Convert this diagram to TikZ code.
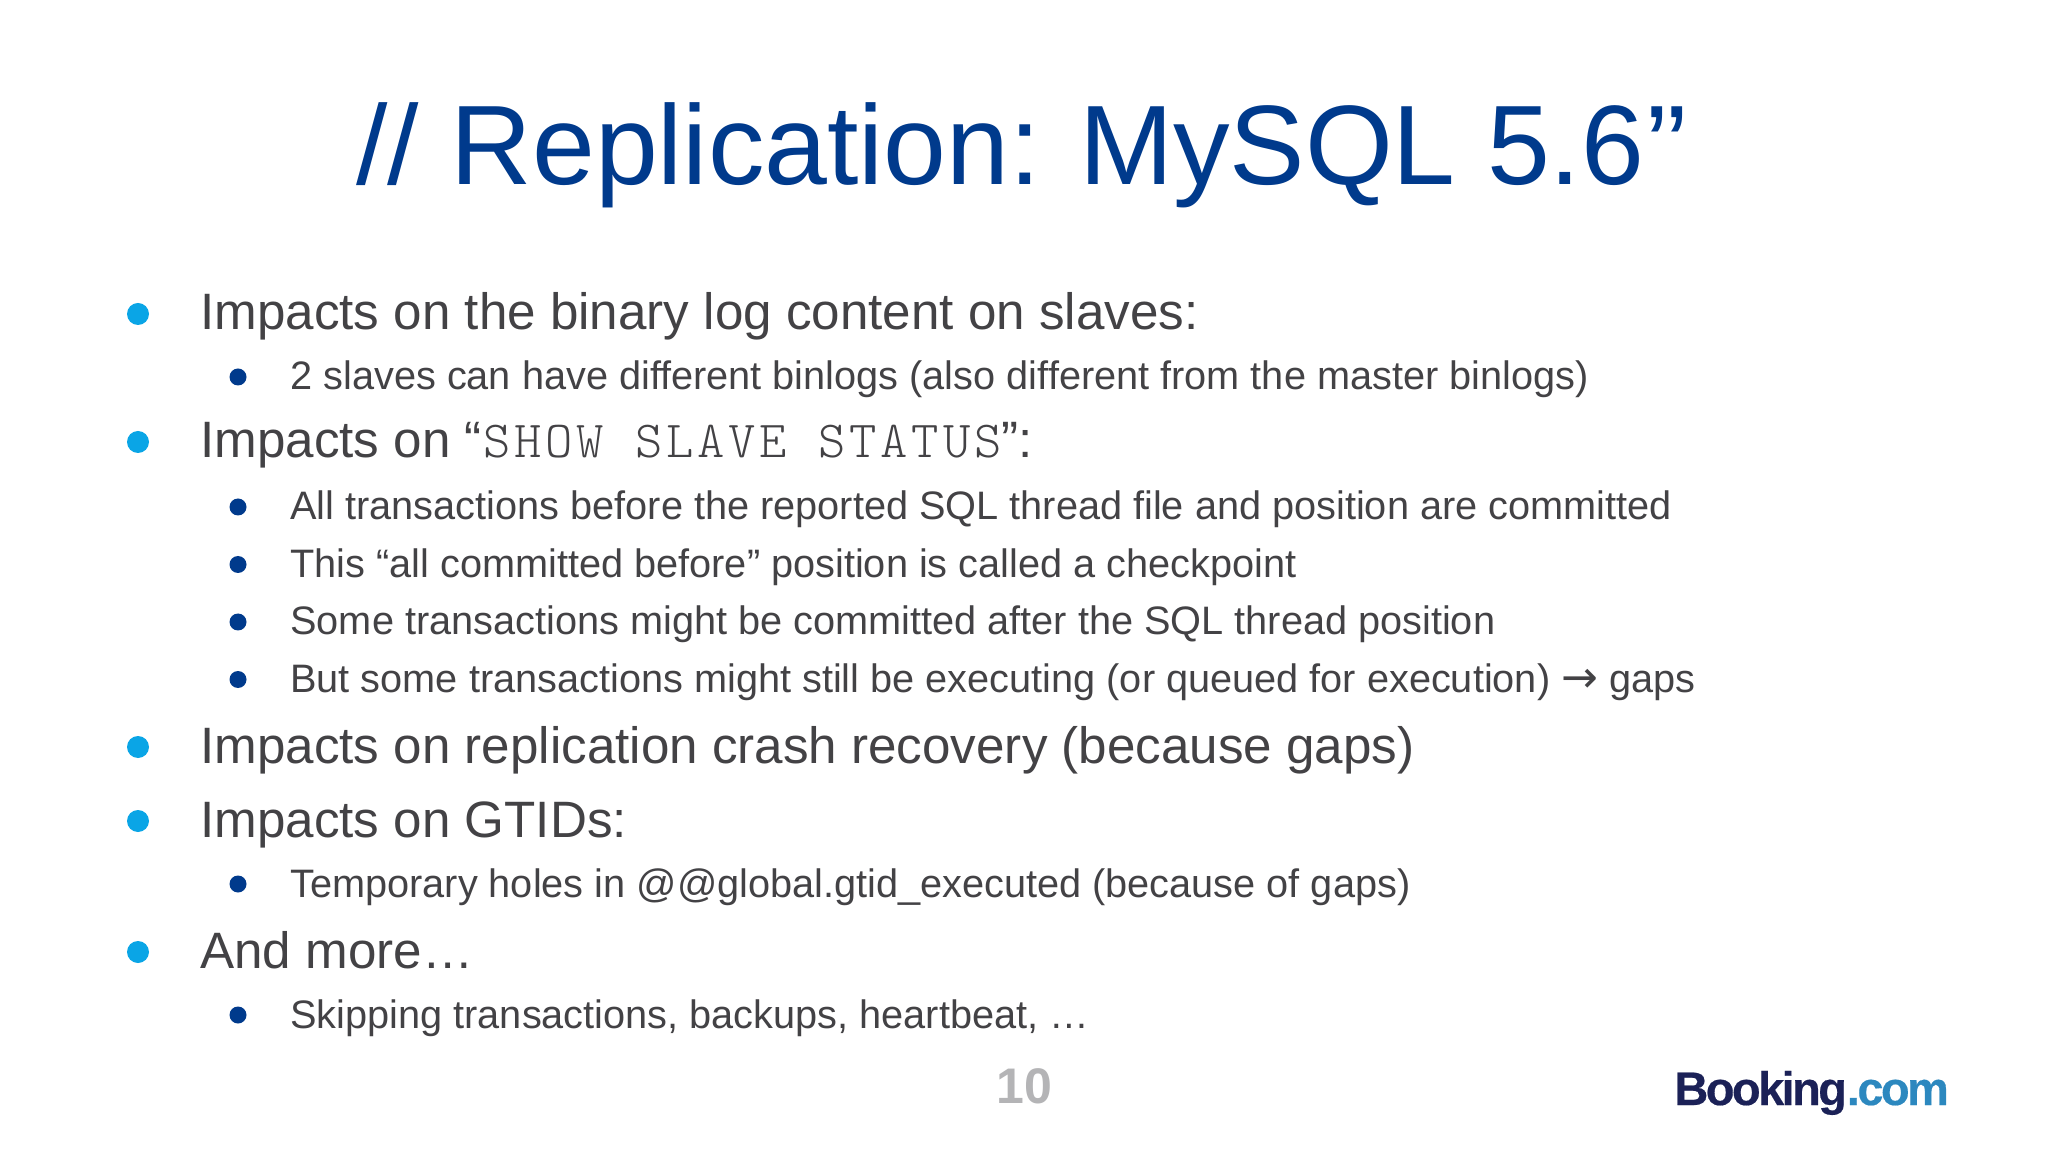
\documentclass[tikz,border=0pt]{standalone}
\usepackage{fontspec}
\setmainfont{Liberation Sans}
\newfontfamily\logofont{Liberation Sans Bold}[LetterSpace=-5.5,FakeBold=0.4]
\newfontfamily\slavefont{Latin Modern Mono Light}[LetterSpace=7.4]
\newfontfamily\arrowfont{DejaVu Sans}
\usetikzlibrary{positioning}
\definecolor{titleblue}{HTML}{003A8C}
\definecolor{dotcyan}{HTML}{0AA5E6}
\definecolor{bodygrey}{HTML}{434245}
\definecolor{pagegrey}{HTML}{B4B4B6}
\definecolor{logonavy}{HTML}{1B2157}
\definecolor{logoblue}{HTML}{2C88BF}
\tikzset{
   titletext/.style={anchor=base,inner sep=0pt,text=titleblue,font=\fontsize{56.5}{60}\selectfont},
   mainitem/.style={anchor=base west,inner sep=0pt,text=bodygrey,font=\fontsize{25.58}{30}\selectfont},
   subitem/.style={anchor=base west,inner sep=0pt,text=bodygrey,font=\fontsize{19.85}{25}\selectfont},
   maindot/.style={circle,inner sep=0pt,minimum size=11pt,fill=dotcyan},
   subdot/.style={circle,inner sep=0pt,minimum size=8.5pt,fill=titleblue},
}
\newcommand{\slavecode}[1]{{\fontsize{26}{30}\slavefont #1}}
\begin{document}
\begin{tikzpicture}[x=0.5pt,y=0.5pt]
   \useasboundingbox (0,0) rectangle (2048,1152);
   \fill[white] (0,0) rectangle (2048,1152);

   \node[titletext] (title) at (1023,967) {// Replication:\kern3.3pt\ MySQL 5.6’\kern-2.5pt’};

   % first level and second level lines
   \node[mainitem] (t1) at (200,822) {Impacts on the binary log content on slaves:};
   \node[subitem, below right=30pt and 45pt of t1.base west, anchor=base west] (s11)
      {2 slaves can have different binlogs (also different from the master binlogs)};
   \node[mainitem, below=64pt of t1.base west, anchor=base west] (t2)
      {Impacts on “\kern0.8pt\slavecode{SHOW SLAVE STATUS}”:};
   \node[subitem, below right=31pt and 45pt of t2.base west, anchor=base west] (s21)
      {All transactions before the reported SQL thread file and position are committed};
   \node[subitem, below=28.75pt of s21.base west, anchor=base west] (s22)
      {This “all committed before” position is called a checkpoint};
   \node[subitem, below=28.75pt of s22.base west, anchor=base west] (s23)
      {Some transactions might be committed after the SQL thread position};
   \node[subitem, below=28.75pt of s23.base west, anchor=base west] (s24)
      {But some transactions might still be executing (or queued for execution) {\fontsize{22}{25}\arrowfont →} gaps};
   \node[mainitem, below=152.5pt of t2.base west, anchor=base west] (t3)
      {Impacts on replication crash recovery (because gaps)};
   \node[mainitem, below=37pt of t3.base west, anchor=base west] (t4) {Impacts on GTIDs:};
   \node[subitem, below right=30pt and 45pt of t4.base west, anchor=base west] (s41)
      {Temporary holes in @@global.gtid\_executed (because of gaps)};
   \node[mainitem, below=65.5pt of t4.base west, anchor=base west] (t5) {And more…};
   \node[subitem, below right=30pt and 45pt of t5.base west, anchor=base west] (s51)
      {Skipping transactions, backups, heartbeat, …};

   % bullets
   \foreach \n in {t1,t2,t3,t4,t5}{
      \node[maindot, above left=8pt and 31pt of \n.base west, anchor=center] (dot\n) {};
   }
   \foreach \n in {s11,s21,s22,s23,s24,s41,s51}{
      \node[subdot, above left=6.5pt and 26pt of \n.base west, anchor=center] (dot\n) {};
   }

   % footer
   \node[anchor=base,inner sep=0pt,text=pagegrey,font=\fontsize{25}{30}\selectfont\bfseries] (pagenum) at (1024,49) {10};
   \node[anchor=base west,inner sep=0pt,font=\fontsize{23.5}{30}\selectfont\logofont] (logo) at (1674,47)
      {\textcolor{logonavy}{Booking}\textcolor{logoblue}{.com}};
\end{tikzpicture}
\end{document}
